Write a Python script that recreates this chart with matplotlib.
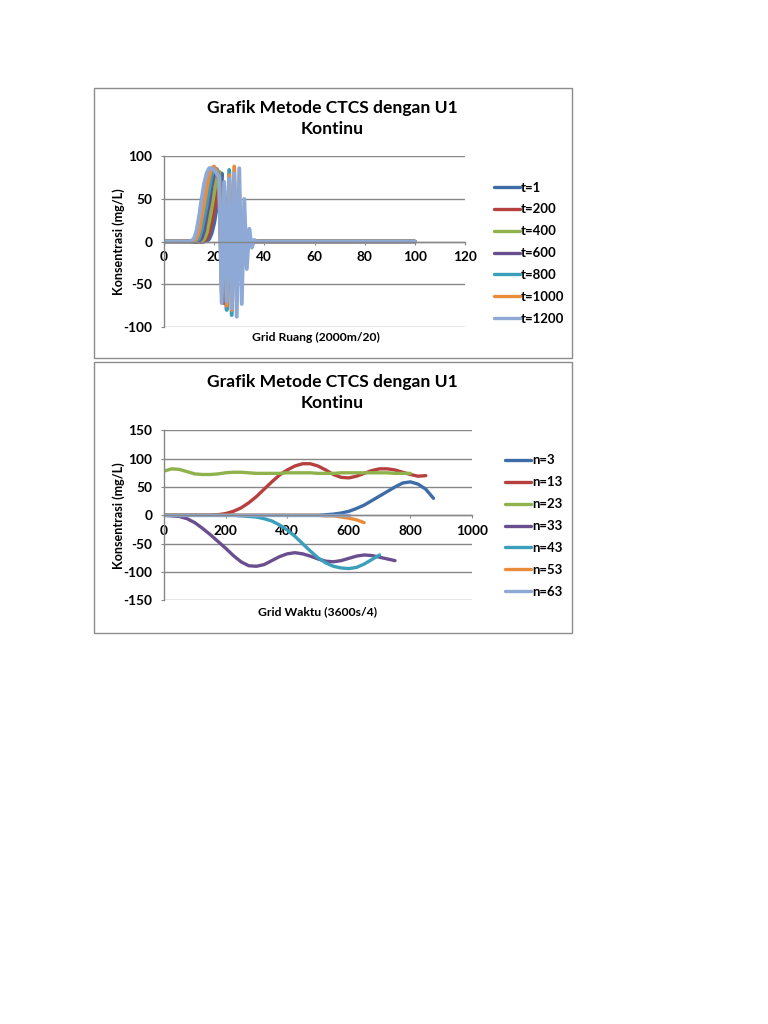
import matplotlib
matplotlib.use("Agg")
import matplotlib.pyplot as plt
from matplotlib.patches import Rectangle
import numpy as np

plt.rcParams['font.family'] = ['Lato', 'DejaVu Sans']
plt.rcParams['font.weight'] = 'bold'
plt.rcParams['axes.unicode_minus'] = False

W, H = 768, 1024

# ---------------- data: top chart (Grid Ruang) ----------------
ruang = list(range(101))
labels_t = ["t=1", "t=200", "t=400", "t=600", "t=800", "t=1000", "t=1200"]
# (first nonzero grid index, values) ; remaining points are 0
t1_start, t1_vals = 17, [1, 3, 10, 22, 40, 60, 80, 0]
t200_start, t200_vals = 16, [1, 3, 10, 22, 36, 52, 80, 10, -72, 40, -30, 10]
t400_start, t400_vals = 15, [1, 3, 10, 24, 40, 58, 75, 82, -30, 50, -60, 45, -25, 10]
t600_start, t600_vals = 14, [1, 4, 13, 30, 45, 65, 80, 85, 72, -40, 60, -79, 70, -60, 40, -20, 6]
t800_start, t800_vals = 13, [1, 4, 13, 28, 43, 62, 77, 86, 84, 74, -50, 65, -80, 84, -86, 70, -50, 30, -12, 4]
t1000_start, t1000_vals = 12, [1, 4, 12, 28, 44, 62, 77, 86, 88, 82, 74, -60, 60, -75, 78, -80, 88, -70, 60, -40, 20, -8, 2]
t1200_start, t1200_vals = 11, [1, 4, 13, 30, 50, 68, 80, 86, 86, 84, 80, 75, -72, 70, -70, 74, -78, 80, -88, 86, -73, 50, -32, 15, -7, 2]

top_series = [(t1_start, t1_vals), (t200_start, t200_vals), (t400_start, t400_vals),
              (t600_start, t600_vals), (t800_start, t800_vals), (t1000_start, t1000_vals),
              (t1200_start, t1200_vals)]

# ---------------- data: bottom chart (Grid Waktu) ----------------
waktu = [0, 25, 50, 75, 100, 125, 150, 175, 200, 225, 250, 275, 300, 325, 350, 375,
         400, 425, 450, 475, 500, 525, 550, 575, 600, 625, 650, 675, 700, 725, 750,
         775, 800, 825, 850, 875]
labels_n = ["n=3", "n=13", "n=23", "n=33", "n=43", "n=53", "n=63"]
n3 = [0, 0, 0, 0, 0, 0, 0, 0, 0, 0, 0, 0, 0, 0, 0, 0, 0, 0, 0, 0, 0, 1, 2, 4, 7, 12,
      18, 26, 34, 42, 50, 57, 59, 55, 46, 30]
n13 = [0, 0, 0, 0, 0, 0, 0, 1, 3, 7, 13, 22, 33, 46, 59, 71, 80, 87, 91, 91, 87, 80,
       72, 67, 66, 69, 74, 79, 82, 82, 80, 76, 72, 69, 70]
n23 = [78, 82, 81, 77, 73, 72, 72, 73, 75, 76, 76, 75, 74, 74, 74, 74, 75, 75, 75, 75,
       74, 74, 74, 75, 75, 75, 75, 75, 75, 75, 74, 74, 74]
n33 = [0, -1, -2, -6, -13, -23, -34, -46, -58, -71, -82, -89, -90, -87, -80, -73, -68,
       -66, -68, -72, -77, -81, -82, -80, -76, -72, -70, -71, -74, -77, -80]
n43 = [0, 0, 0, 0, 0, 0, 0, 0, 0, 0, -1, -2, -3, -6, -10, -17, -26, -37, -50, -63, -75,
       -84, -90, -93, -94, -92, -86, -78, -70]
n53 = [0, 0, 0, 0, 0, 0, 0, 0, 0, 0, 0, 0, 0, 0, 0, 0, 0, 0, 0, 0, 0, -1, -1, -3, -5,
       -8, -13]
n63 = [0, 0, 0, 0, 0, 0, 0, 0, 0, 0, 0, 0, 0, 0, 0, 0, 0, 0, 0, 0, 0, 0, 0, 0, 0]
bottom_series = [n3, n13, n23, n33, n43, n53, n63]

colors = ["#3D6CA8", "#B5403D", "#8FB24C", "#6A4F90", "#3A9FBA", "#EB8B3C", "#8EA9D5"]
grid_col = "#878787"


def fx(px):
    return px / W


def fy(py):
    return 1 - py / H


fig = plt.figure(figsize=(W / 100, H / 100), dpi=100)
fig.patch.set_facecolor("white")

# chart borders
for (x0, y0, x1, y1) in [(94, 88, 572, 358), (94, 362, 572, 633)]:
    fig.add_artist(Rectangle((fx(x0), fy(y1)), fx(x1) - fx(x0), fy(y0) - fy(y1),
                             transform=fig.transFigure, fill=False,
                             edgecolor="#8C8C8C", lw=1.0))


def style_axes(ax, xlim, xticks, ylim, yticks):
    ax.set_xlim(*xlim)
    ax.set_ylim(*ylim)
    ax.set_xticks(xticks)
    ax.set_yticks(yticks)
    ax.set_facecolor("none")
    for s in ["top", "right"]:
        ax.spines[s].set_visible(False)
    ax.spines["bottom"].set_position(("data", 0))
    ax.spines["bottom"].set_color(grid_col)
    ax.spines["left"].set_color(grid_col)
    ax.spines["bottom"].set_linewidth(1.0)
    ax.spines["left"].set_linewidth(1.0)
    ax.yaxis.grid(True, color=grid_col, lw=1.0)
    ax.set_axisbelow(True)
    ax.tick_params(axis="both", colors=grid_col, labelcolor="black",
                   labelsize=9.8, length=2.5, width=0.8)
    ax.tick_params(axis="x", pad=4.5)
    ax.tick_params(axis="y", pad=6.0)
    for lab in ax.get_xticklabels() + ax.get_yticklabels():
        lab.set_fontweight("bold")


# ---------------- top chart ----------------
ax1 = fig.add_axes([fx(164), fy(327), fx(465) - fx(164), fy(156.3) - fy(327)])
for (start, vals), c, lab in zip(top_series, colors, labels_t):
    y = [0] * start + vals + [0] * (len(ruang) - start - len(vals))
    ax1.plot(ruang, y, color=c, lw=2.8, label=lab, solid_joinstyle="round",
             solid_capstyle="round")
style_axes(ax1, (0, 120), list(range(0, 121, 20)), (-100, 100), list(range(-100, 101, 50)))

# ---------------- bottom chart ----------------
ax2 = fig.add_axes([fx(164), fy(600.3), fx(472) - fx(164), fy(430.3) - fy(600.3)])
for vals, c, lab in zip(bottom_series, colors, labels_n):
    ax2.plot(waktu[:len(vals)], vals, color=c, lw=2.4, label=lab,
             solid_joinstyle="round", solid_capstyle="round")
style_axes(ax2, (0, 1000), list(range(0, 1001, 200)), (-150, 150), list(range(-150, 151, 50)))

# titles and axis labels
for ytop in (88, 362):
    fig.text(fx(332), fy(ytop + 20), "Grafik Metode CTCS dengan U1", ha="center",
             va="center", fontsize=12.6, fontweight="bold")
    fig.text(fx(332), fy(ytop + 41), "Kontinu", ha="center", va="center",
             fontsize=12.6, fontweight="bold")

fig.text(fx(119), fy(241.5), "Konsentrasi (mg/L)", rotation=90, ha="center",
         va="center", fontsize=9.1, fontweight="bold")
fig.text(fx(119), fy(515.3), "Konsentrasi (mg/L)", rotation=90, ha="center",
         va="center", fontsize=9.1, fontweight="bold")
fig.text(fx(316), fy(337), "Grid Ruang (2000m/20)", ha="center", va="center",
         fontsize=8.7, fontweight="bold")
fig.text(fx(318), fy(612), "Grid Waktu (3600s/4)", ha="center", va="center",
         fontsize=8.7, fontweight="bold")

# legends
leg_kw = dict(loc="upper left", bbox_transform=fig.transFigure, frameon=False,
              fontsize=9.5, handlelength=2.0, handletextpad=0.05,
              labelspacing=0.75, borderpad=0, borderaxespad=0)
leg1 = ax1.legend(bbox_to_anchor=(fx(494), fy(181.5)), **leg_kw)
leg2 = ax2.legend(bbox_to_anchor=(fx(505), fy(454.5)), **leg_kw)
for leg in (leg1, leg2):
    for t in leg.get_texts():
        t.set_fontweight("bold")
    for h in leg.get_lines():
        h.set_linewidth(2.4)

fig.savefig("out.png", dpi=100, facecolor="white")
